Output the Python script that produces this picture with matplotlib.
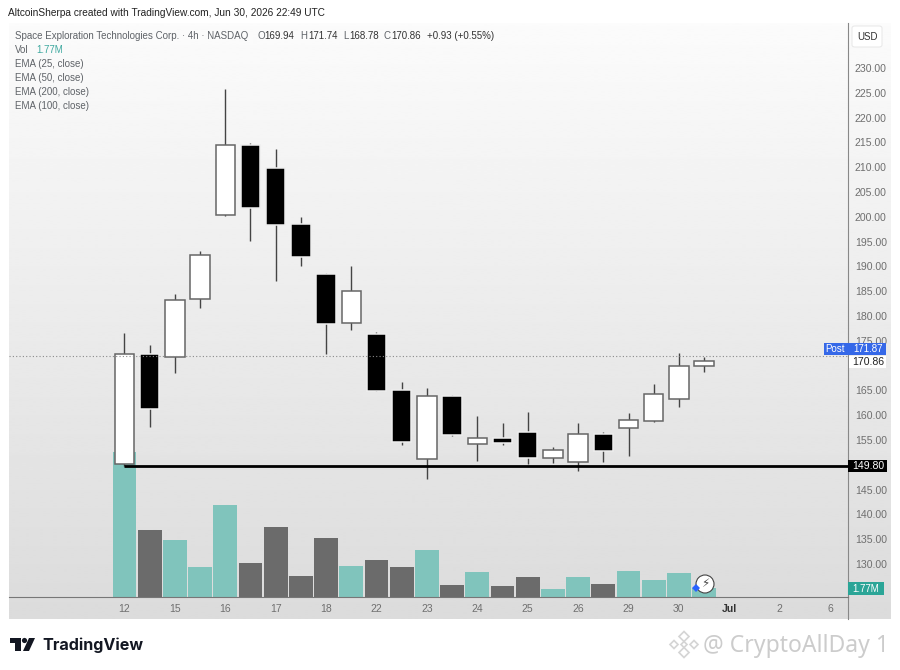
import numpy as np
from matplotlib import pyplot as plt
from matplotlib.patches import Ellipse, Polygon, Rectangle, FancyBboxPatch

plt.rcParams['font.family'] = ['Liberation Sans', 'DejaVu Sans']

# candles, in bar order
opens = [150.2, 172.3, 171.7, 183.4, 200.4, 214.5, 209.8, 198.5, 188.5, 178.6, 176.4, 165.1,
         151.2, 163.9, 154.2, 155.4, 156.6, 151.4, 150.6, 156.2, 157.4, 158.8, 163.3, 169.94]
highs = [176.6, 174.15, 184.4, 193.1, 225.8, 214.9, 213.7, 200.0, 188.6, 190.1, 176.8, 166.7,
         165.5, 164.0, 159.8, 158.4, 160.6, 153.6, 158.4, 156.6, 160.4, 166.3, 172.5, 171.74]
lows = [149.8, 157.6, 168.5, 181.6, 200.2, 195.1, 187.1, 190.1, 172.3, 177.2, 164.8, 154.0,
        147.1, 155.9, 150.8, 154.0, 150.2, 150.4, 148.7, 150.6, 151.8, 158.6, 161.6, 168.78]
closes = [172.3, 161.25, 183.2, 192.3, 214.5, 201.8, 198.3, 191.9, 178.4, 185.0, 164.9, 154.6,
          163.9, 156.0, 155.4, 154.4, 151.4, 153.0, 156.2, 152.8, 159.0, 164.3, 169.9, 170.86]

# volume in millions
volumes = [30.2, 13.9, 11.9, 6.2, 19.1, 7.1, 14.6, 4.4, 12.3, 6.4, 7.7, 6.2,
           9.8, 2.5, 5.2, 2.3, 4.2, 1.7, 4.2, 2.7, 5.4, 3.5, 5.0, 1.77]

date_pos = [0, 2, 4, 6, 8, 10, 12, 14, 16, 18, 20, 22, 24, 26, 28]
date_labels = ['12', '15', '16', '17', '18', '22', '23', '24', '25', '26', '29', '30', 'Jul', '2', '6']
price_ticks = [130, 135, 140, 145, 155, 160, 165, 175, 180, 185, 190, 195, 200, 205, 210, 215, 220, 225, 230]

support = 149.80
post_price = 171.87
last_price = 170.86
last_vol = '1.77M'

legend_rows = ['EMA (25, close)', 'EMA (50, close)', 'EMA (200, close)', 'EMA (100, close)']

W, H = 900, 670
TEAL = '#80c4bc'
GREY = '#6b6b6b'
TXT = '#5f6368'
SMALL = 7.05


def px(x, y):
    return x / W, 1 - y / H


def axes_box(x0, y0, x1, y1):
    return [x0 / W, 1 - y1 / H, (x1 - x0) / W, (y1 - y0) / H]


def put(x, y, s, **kw):
    kw.setdefault('fontsize', SMALL)
    kw.setdefault('color', TXT)
    kw.setdefault('va', 'center')
    fig.text(*px(x, y), s, **kw)


def tag(x0, y0, x1, y1, color):
    fig.add_artist(Rectangle(px(x0, y1), (x1 - x0) / W, (y1 - y0) / H, transform=fig.transFigure,
                             facecolor=color, edgecolor='none', zorder=5))


def round_mark(x, y, r, **kw):
    fig.add_artist(Ellipse(px(x, y), 2 * r / W, 2 * r / H, transform=fig.transFigure, **kw))


fig = plt.figure(figsize=(9, 6.7), dpi=100, facecolor='white')

# background gradient of the whole chart box
bg = fig.add_axes(axes_box(9, 23, 891, 619), zorder=0)
bg.imshow(np.linspace(0.985, 0.86, 256).reshape(-1, 1), aspect='auto', cmap='gray', vmin=0, vmax=1,
          interpolation='bilinear')
bg.set_axis_off()

# volume pane, sits behind the candles
box = axes_box(9, 23, 848, 597)
ax_vol = fig.add_axes(box, zorder=1)
ax_vol.patch.set_visible(False)
x = np.arange(len(opens))
vol_colors = [TEAL if c >= o else GREY for o, c in zip(opens, closes)]
ax_vol.bar(x, volumes, width=0.95, color=vol_colors, linewidth=0)
ax_vol.set_ylim(0, 119.4)
ax_vol.set_xlim(-4.583, 28.71)
ax_vol.set_axis_off()

# price pane
ax = fig.add_axes(box, zorder=2)
ax.patch.set_visible(False)
ax.set_xlim(-4.583, 28.71)
ax.set_ylim(123.35, 239.07)

ax.axhline(post_price, color='#8a8a8a', lw=0.8, ls=(0, (1, 2)), zorder=5)
for i in x:
    up = closes[i] >= opens[i]
    ax.vlines(i, lows[i], highs[i], color='#444444', lw=1.0, zorder=3)
    ax.bar(i, abs(closes[i] - opens[i]), bottom=min(opens[i], closes[i]), width=0.77,
           color='white' if up else 'black', edgecolor='#666666' if up else '#eeeeee', linewidth=1.1, zorder=4)
ax.hlines(support, 0, 28.71, color='black', lw=2.0, zorder=6)

for s in ['top', 'left']:
    ax.spines[s].set_visible(False)
ax.spines['right'].set_color('#888888')
ax.spines['bottom'].set_color('#777777')
ax.yaxis.tick_right()
ax.set_yticks(price_ticks)
ax.set_yticklabels(['%.2f' % p for p in price_ticks], fontsize=7.6, color='#6f6f6f')
ax.set_xticks(date_pos)
ax.set_xticklabels(date_labels, fontsize=7.5, color='#6f6f6f')
ax.get_xticklabels()[date_labels.index('Jul')].set_color('#333333')
ax.get_xticklabels()[date_labels.index('Jul')].set_fontweight('bold')
ax.tick_params(axis='both', length=0, pad=5)
ax.tick_params(axis='y', pad=5)

# price axis runs down through the time axis strip
fig.add_artist(plt.Line2D([848 / W, 848 / W], [1 - 597 / H, 1 - 619 / H], color='#888888', lw=0.8))

# header
put(8, 13, 'AltcoinSherpa created with TradingView.com, Jun 30, 2026 22:49 UTC', color='#222222', fontsize=7.3)
put(15, 36, 'Space Exploration Technologies Corp. · 4h · NASDAQ')
for xp, s in [(257, 'O'), (300, 'H'), (343, 'L'), (384, 'C')]:
    put(xp, 36, s)
for xp, s in [(264, '169.94'), (308, '171.74'), (349, '168.78'), (391, '170.86'), (427, '+0.93 (+0.55%)')]:
    put(xp, 36, s, color='#333333')
put(15, 50, 'Vol')
put(36, 50, '1.77M', color='#3fa9a0')
for k, s in enumerate(legend_rows):
    put(15, 64 + 14 * k, s)

# USD button
fig.add_artist(FancyBboxPatch(px(852, 47), 30 / W, 21 / H, boxstyle='round,pad=0,rounding_size=0.003',
                              transform=fig.transFigure, facecolor='white', edgecolor='#e4e4e4', lw=0.6, zorder=5))
put(867, 37, 'USD', color='#333333', ha='center', zorder=6)

# price tags
tag(824, 343, 886, 355, '#3568e8')
put(835, 349.5, 'Post', color='white', ha='center', zorder=6)
put(868, 349.5, '%.2f' % post_price, color='white', ha='center', zorder=6)
tag(849, 356, 886, 368, 'white')
put(868, 362, '%.2f' % last_price, color='#222222', fontsize=7.6, ha='center', zorder=6)
tag(848, 460, 887, 472, 'black')
put(868, 466, '%.2f' % support, color='white', fontsize=7.6, ha='center', zorder=6)
tag(848, 582, 884, 595, '#2ba597')
put(866, 589, last_vol, color='white', ha='center', zorder=6)

# replay marker next to the last volume bar
round_mark(705, 584, 9, facecolor='white', edgecolor='#444444', lw=0.8, zorder=5)
put(705, 584, '\u26a1', fontsize=8.5, color='#444444', ha='center', family='DejaVu Sans', zorder=6)
fig.add_artist(Polygon([px(696, 584), px(700, 588), px(696, 592), px(692, 588)], transform=fig.transFigure,
                       facecolor='#2962ff', edgecolor='none', zorder=6))

# TradingView logo
LOGO = '#131722'
fig.add_artist(Polygon([px(10, 638), px(21, 638), px(21, 651), px(15, 651), px(15, 643), px(10, 643)],
                       transform=fig.transFigure, facecolor=LOGO, edgecolor='none'))
round_mark(24.5, 640.5, 2.6, facecolor=LOGO, edgecolor='none')
fig.add_artist(Polygon([px(29, 638), px(35, 638), px(29, 651), px(23, 651)], transform=fig.transFigure,
                       facecolor=LOGO, edgecolor='none'))
put(42, 645, 'TradingView', color=LOGO, fontsize=11.6, fontweight='bold', family='Inter')

# watermark
WM = '#d4d4d4'
for cx, cy, r in [(684, 636.5, 5), (684, 652.5, 5), (674, 644.5, 4), (694, 644.5, 4), (684, 644.5, 3)]:
    fig.add_artist(Polygon([px(cx, cy - r), px(cx + r, cy), px(cx, cy + r), px(cx - r, cy)],
                           transform=fig.transFigure, facecolor='none', edgecolor=WM, lw=1.2))
put(703, 646, '@ CryptoAllDay 1', color='#cccccc', fontsize=16.5, family='Noto Sans')

plt.savefig('out.png', dpi=100)
